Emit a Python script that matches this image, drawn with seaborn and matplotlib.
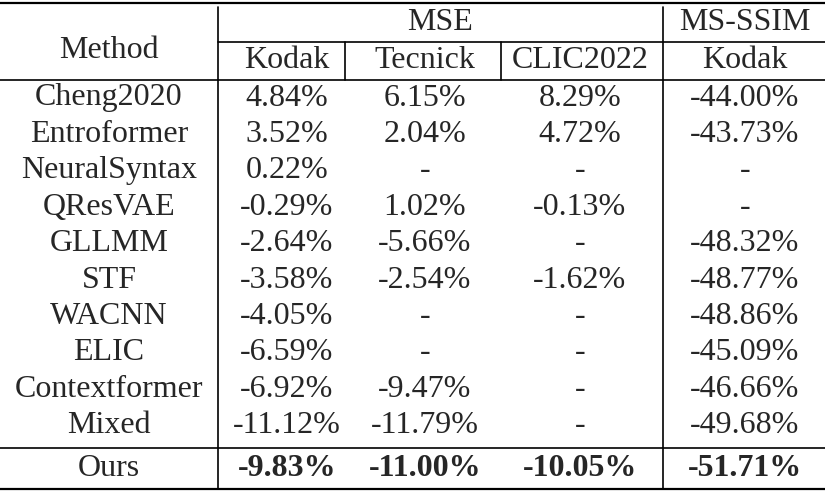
import matplotlib
matplotlib.use("Agg")
import matplotlib.pyplot as plt
import seaborn as sns

sns.set_theme(style="white")
plt.rcParams['font.family'] = ['Liberation Serif', 'DejaVu Serif']

methods = ["Cheng2020", "Entroformer", "NeuralSyntax", "QResVAE", "GLLMM", "STF",
           "WACNN", "ELIC", "Contextformer", "Mixed", "Ours"]
mse_kodak = ["4.84%", "3.52%", "0.22%", "-0.29%", "-2.64%", "-3.58%", "-4.05%",
             "-6.59%", "-6.92%", "-11.12%", "-9.83%"]
mse_tecnick = ["6.15%", "2.04%", "-", "1.02%", "-5.66%", "-2.54%", "-", "-",
               "-9.47%", "-11.79%", "-11.00%"]
mse_clic = ["8.29%", "4.72%", "-", "-0.13%", "-", "-1.62%", "-", "-", "-", "-", "-10.05%"]
msssim_kodak = ["-44.00%", "-43.73%", "-", "-", "-48.32%", "-48.77%", "-48.86%",
                "-45.09%", "-46.66%", "-49.68%", "-51.71%"]

fig = plt.figure(figsize=(8.25, 4.92), dpi=100)
ax = fig.add_axes([0, 0, 1, 1])
ax.set_xlim(0, 825)
ax.set_ylim(492, 0)
ax.axis("off")

fs = 23
colx = [109, 287, 425, 580, 745]
lw = 1.2
ax.plot([0, 825], [3, 3], color="black", lw=1.6)
ax.plot([218, 825], [42, 42], color="black", lw=lw)
ax.plot([0, 825], [80, 80], color="black", lw=lw)
ax.plot([0, 825], [448, 448], color="black", lw=lw)
ax.plot([0, 825], [489, 489], color="black", lw=1.6)
ax.plot([218, 218], [7, 489], color="black", lw=lw)
ax.plot([663, 663], [7, 489], color="black", lw=lw)
ax.plot([345, 345], [42, 80], color="black", lw=lw)
ax.plot([501, 501], [42, 80], color="black", lw=lw)

ax.text(colx[0], 50, "Method", ha="center", va="center", fontsize=fs)
ax.text(440, 23, "MSE", ha="center", va="center", fontsize=fs)
ax.text(colx[4], 23, "MS-SSIM", ha="center", va="center", fontsize=fs)
for x, t in zip(colx[1:], ["Kodak", "Tecnick", "CLIC2022", "Kodak"]):
    ax.text(x, 61, t, ha="center", va="center", fontsize=fs)

for i, m in enumerate(methods):
    y = 98 + i * 36.4 if i < 10 else 468
    bold = (m == "Ours")
    vals = [m, mse_kodak[i], mse_tecnick[i], mse_clic[i], msssim_kodak[i]]
    for j, (x, v) in enumerate(zip(colx, vals)):
        ax.text(x, y, v, ha="center", va="center", fontsize=fs,
                fontweight="bold" if (bold and j > 0) else "normal")

fig.savefig("out.png", dpi=100, facecolor="white")
